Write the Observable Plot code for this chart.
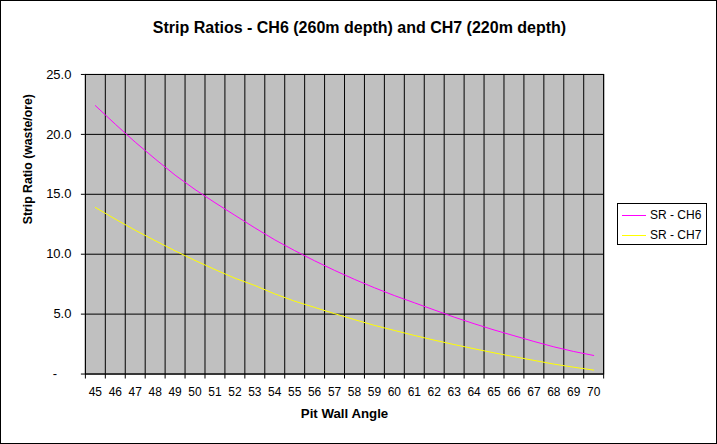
<!DOCTYPE html>
<html>
<head>
<meta charset="utf-8">
<script src="https://cdn.jsdelivr.net/npm/d3@7"></script>
<script src="https://cdn.jsdelivr.net/npm/@observablehq/plot@0.6"></script>
<style>
  body { margin: 0; background: white; }
  #wrap { position: relative; width: 717px; height: 444px; box-sizing: border-box; border: 1px solid black; background: white; font-family: "Liberation Sans", Arial, sans-serif; overflow: hidden; }
  #title { position: absolute; left: 0; width: 717px; top: 18px; text-align: center; font-weight: bold; font-size: 16px; color: black; }
  #chart { position: absolute; left: -1px; top: 49px; }
  #legend { position: absolute; left: 616px; top: 202px; width: 90px; height: 42px; box-sizing: border-box; border: 1px solid black; background: white; font-size: 12px; }
  .item { position: absolute; left: 4px; height: 14px; display: flex; align-items: center; }
  .swatch { width: 24px; height: 0; border-top: 1px solid; margin-right: 4px; }
</style>
</head>
<body>
<div id="wrap">
  <div id="title"></div>
  <div id="chart"></div>
  <div id="legend"></div>
</div>
<script>
const titleText = "Strip Ratios - CH6 (260m depth) and CH7 (220m depth)";
const xLabel = "Pit Wall Angle";
const yLabel = "Strip Ratio (waste/ore)";
const angles = [45, 46, 47, 48, 49, 50, 51, 52, 53, 54, 55, 56, 57, 58, 59, 60, 61, 62, 63, 64, 65, 66, 67, 68, 69, 70];
const ch6 = [22.4, 20.85, 19.35, 17.95, 16.6, 15.4, 14.3, 13.25, 12.2, 11.2, 10.3, 9.45, 8.65, 7.9, 7.2, 6.55, 5.95, 5.35, 4.75, 4.2, 3.68, 3.2, 2.72, 2.27, 1.88, 1.55];
const ch7 = [13.9, 12.93, 12.0, 11.13, 10.28, 9.48, 8.72, 8.0, 7.39, 6.69, 6.08, 5.56, 5.04, 4.54, 4.06, 3.64, 3.22, 2.83, 2.46, 2.11, 1.77, 1.45, 1.14, 0.83, 0.57, 0.33];
const seriesNames = ["SR - CH6", "SR - CH7"];
const seriesColors = ["#ff00ff", "#ffff00"];
const yTicks = [0, 5, 10, 15, 20, 25];

const bounds = [angles[0] - 0.5, ...angles.map(a => a + 0.5)];
const rows = [
  ...angles.map((a, i) => ({angle: a, value: ch6[i], series: seriesNames[0]})),
  ...angles.map((a, i) => ({angle: a, value: ch7[i], series: seriesNames[1]}))
];

document.getElementById("title").textContent = titleText;

const chart = Plot.plot({
  width: 717,
  height: 394,
  marginTop: 24,
  marginRight: 113,
  marginBottom: 70,
  marginLeft: 85,
  style: {fontFamily: "'Liberation Sans', Arial, sans-serif", fontSize: "12px", background: "transparent", color: "black", overflow: "visible"},
  x: {type: "linear", domain: [bounds[0], bounds[bounds.length - 1]]},
  y: {domain: [yTicks[0], yTicks[yTicks.length - 1]]},
  color: {domain: seriesNames, range: seriesColors},
  marks: [
    Plot.frame({fill: "#c0c0c0"}),
    Plot.gridY(yTicks, {stroke: "black", strokeOpacity: 1}),
    Plot.gridX(bounds, {stroke: "black", strokeOpacity: 1}),
    Plot.frame({stroke: "black"}),
    Plot.axisY({ticks: yTicks, tickSize: 4, tickPadding: 10, label: null, fontSize: 13,
      tickFormat: d => d === 0 ? "-\u00a0\u00a0\u00a0\u00a0" : d.toFixed(1)}),
    Plot.axisX({ticks: bounds, tickSize: 5, tickFormat: () => "", label: null}),
    Plot.axisX({ticks: angles, tickSize: 0, tickPadding: 13, fontSize: 12, tickFormat: d => String(d), label: null}),
    Plot.line(rows, {x: "angle", y: "value", z: "series", stroke: "series", strokeWidth: 1}),
    Plot.text([yLabel], {frameAnchor: "left", dx: -57, rotate: -90, fontWeight: "bold", fontSize: 12.3}),
    Plot.text([xLabel], {frameAnchor: "bottom", dy: 44, fontWeight: "bold", fontSize: 13.3})
  ]
});
document.getElementById("chart").appendChild(chart);

const legend = document.getElementById("legend");
seriesNames.forEach((name, i) => {
  const item = document.createElement("div");
  item.className = "item";
  item.style.top = (4 + i * 20) + "px";
  const sw = document.createElement("div");
  sw.className = "swatch";
  sw.style.borderTopColor = seriesColors[i];
  const t = document.createElement("span");
  t.textContent = name;
  item.appendChild(sw);
  item.appendChild(t);
  legend.appendChild(item);
});
</script>
</body>
</html>
